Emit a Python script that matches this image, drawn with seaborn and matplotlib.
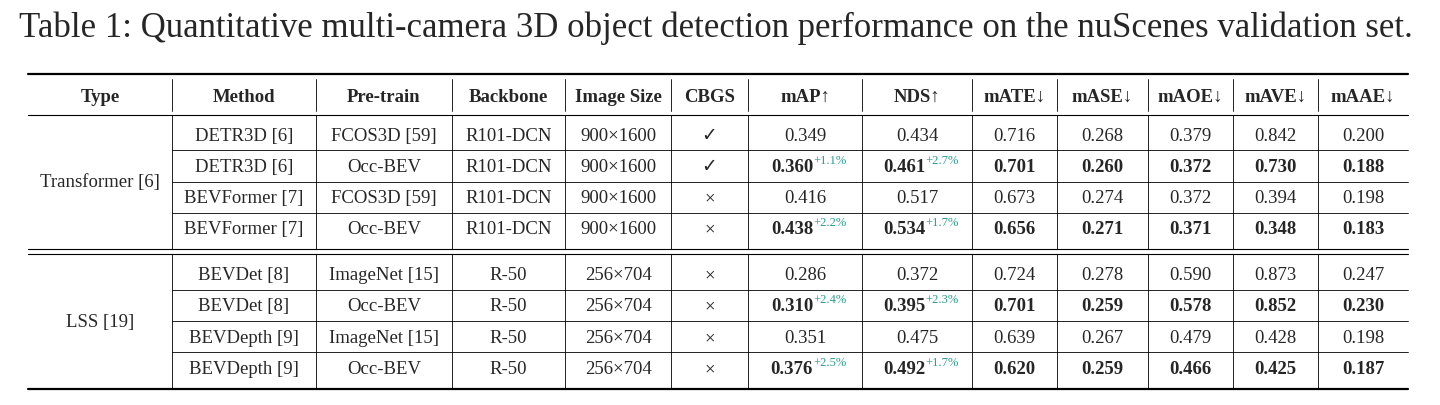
import seaborn as sns
import matplotlib.pyplot as plt

sns.set_style("white")
plt.rcParams['font.family'] = ['Liberation Serif', 'DejaVu Serif']

headers = ["Type", "Method", "Pre-train", "Backbone", "Image Size", "CBGS",
           "mAP↑", "NDS↑", "mATE↓", "mASE↓", "mAOE↓", "mAVE↓", "mAAE↓"]
groups = ["Transformer [6]", "LSS [19]"]
methods = ["DETR3D [6]", "DETR3D [6]", "BEVFormer [7]", "BEVFormer [7]",
           "BEVDet [8]", "BEVDet [8]", "BEVDepth [9]", "BEVDepth [9]"]
pretrain = ["FCOS3D [59]", "Occ-BEV", "FCOS3D [59]", "Occ-BEV",
            "ImageNet [15]", "Occ-BEV", "ImageNet [15]", "Occ-BEV"]
backbone = ["R101-DCN"] * 4 + ["R-50"] * 4
img_size = ["900×1600"] * 4 + ["256×704"] * 4
cbgs = ["✓", "✓", "×", "×", "×", "×", "×", "×"]
mAP = [0.349, 0.360, 0.416, 0.438, 0.286, 0.310, 0.351, 0.376]
NDS = [0.434, 0.461, 0.517, 0.534, 0.372, 0.395, 0.475, 0.492]
mAP_gain = [None, "+1.1%", None, "+2.2%", None, "+2.4%", None, "+2.5%"]
NDS_gain = [None, "+2.7%", None, "+1.7%", None, "+2.3%", None, "+1.7%"]
mATE = [0.716, 0.701, 0.673, 0.656, 0.724, 0.701, 0.639, 0.620]
mASE = [0.268, 0.260, 0.274, 0.271, 0.278, 0.259, 0.267, 0.259]
mAOE = [0.379, 0.372, 0.372, 0.371, 0.590, 0.578, 0.479, 0.466]
mAVE = [0.842, 0.730, 0.394, 0.348, 0.873, 0.852, 0.428, 0.425]
mAAE = [0.200, 0.188, 0.198, 0.183, 0.247, 0.230, 0.198, 0.187]

fig = plt.figure(figsize=(14.4, 4.06), dpi=100)
ax = fig.add_axes([0, 0, 1, 1])
ax.set_xlim(0, 1440)
ax.set_ylim(406, 0)
ax.axis('off')

ax.text(716, 28, "Table 1: Quantitative multi-camera 3D object detection performance on the nuScenes validation set.",
        ha='center', va='center', fontsize=25)

xs = [28, 172, 316, 452, 565, 671, 748, 862, 972, 1057, 1148, 1233, 1318, 1408]
centers = [(a + b) / 2 for a, b in zip(xs[:-1], xs[1:])]
row_y = [137, 168, 199, 230, 276, 307, 339, 370]
fs = 13.5

# rules
ax.plot([28, 1408], [75, 75], color='k', lw=1.6)
ax.plot([28, 1408], [116, 116], color='k', lw=0.8)
ax.plot([28, 1408], [250, 250], color='k', lw=0.8)
ax.plot([28, 1408], [255, 255], color='k', lw=0.8)
ax.plot([28, 1408], [390, 390], color='k', lw=1.6)
for y in [151, 183, 214, 291, 322, 353]:
    ax.plot([172, 1408], [y, y], color='k', lw=0.6)
for x in xs[1:-1]:
    ax.plot([x, x], [80, 112], color='k', lw=0.6)
    ax.plot([x, x], [116, 250], color='k', lw=0.6)
    ax.plot([x, x], [255, 390], color='k', lw=0.6)

for c, h in zip(centers, headers):
    ax.text(c, 97, h, ha='center', va='center', fontsize=fs, fontweight='bold')

ax.text(centers[0], 183, groups[0], ha='center', va='center', fontsize=fs)
ax.text(centers[0], 323, groups[1], ha='center', va='center', fontsize=fs)

for i, y in enumerate(row_y):
    best = i % 2 == 1
    w = 'bold' if best else 'normal'
    for c, v in zip(centers[1:6], [methods[i], pretrain[i], backbone[i], img_size[i], cbgs[i]]):
        ax.text(c, y, v, ha='center', va='center', fontsize=fs,
                family=['Liberation Serif', 'DejaVu Sans'])
    for c, v, g in [(centers[6], mAP[i], mAP_gain[i]), (centers[7], NDS[i], NDS_gain[i])]:
        if g:
            ax.text(c + 8, y, f"{v:.3f}", ha='right', va='center', fontsize=fs, fontweight=w)
            ax.text(c + 8, y - 7, g, ha='left', va='center', fontsize=9, color='#2a9d8f')
        else:
            ax.text(c, y, f"{v:.3f}", ha='center', va='center', fontsize=fs)
    for c, v in zip(centers[8:], [mATE[i], mASE[i], mAOE[i], mAVE[i], mAAE[i]]):
        ax.text(c, y, f"{v:.3f}", ha='center', va='center', fontsize=fs, fontweight=w)

fig.savefig("out.png", dpi=100)
